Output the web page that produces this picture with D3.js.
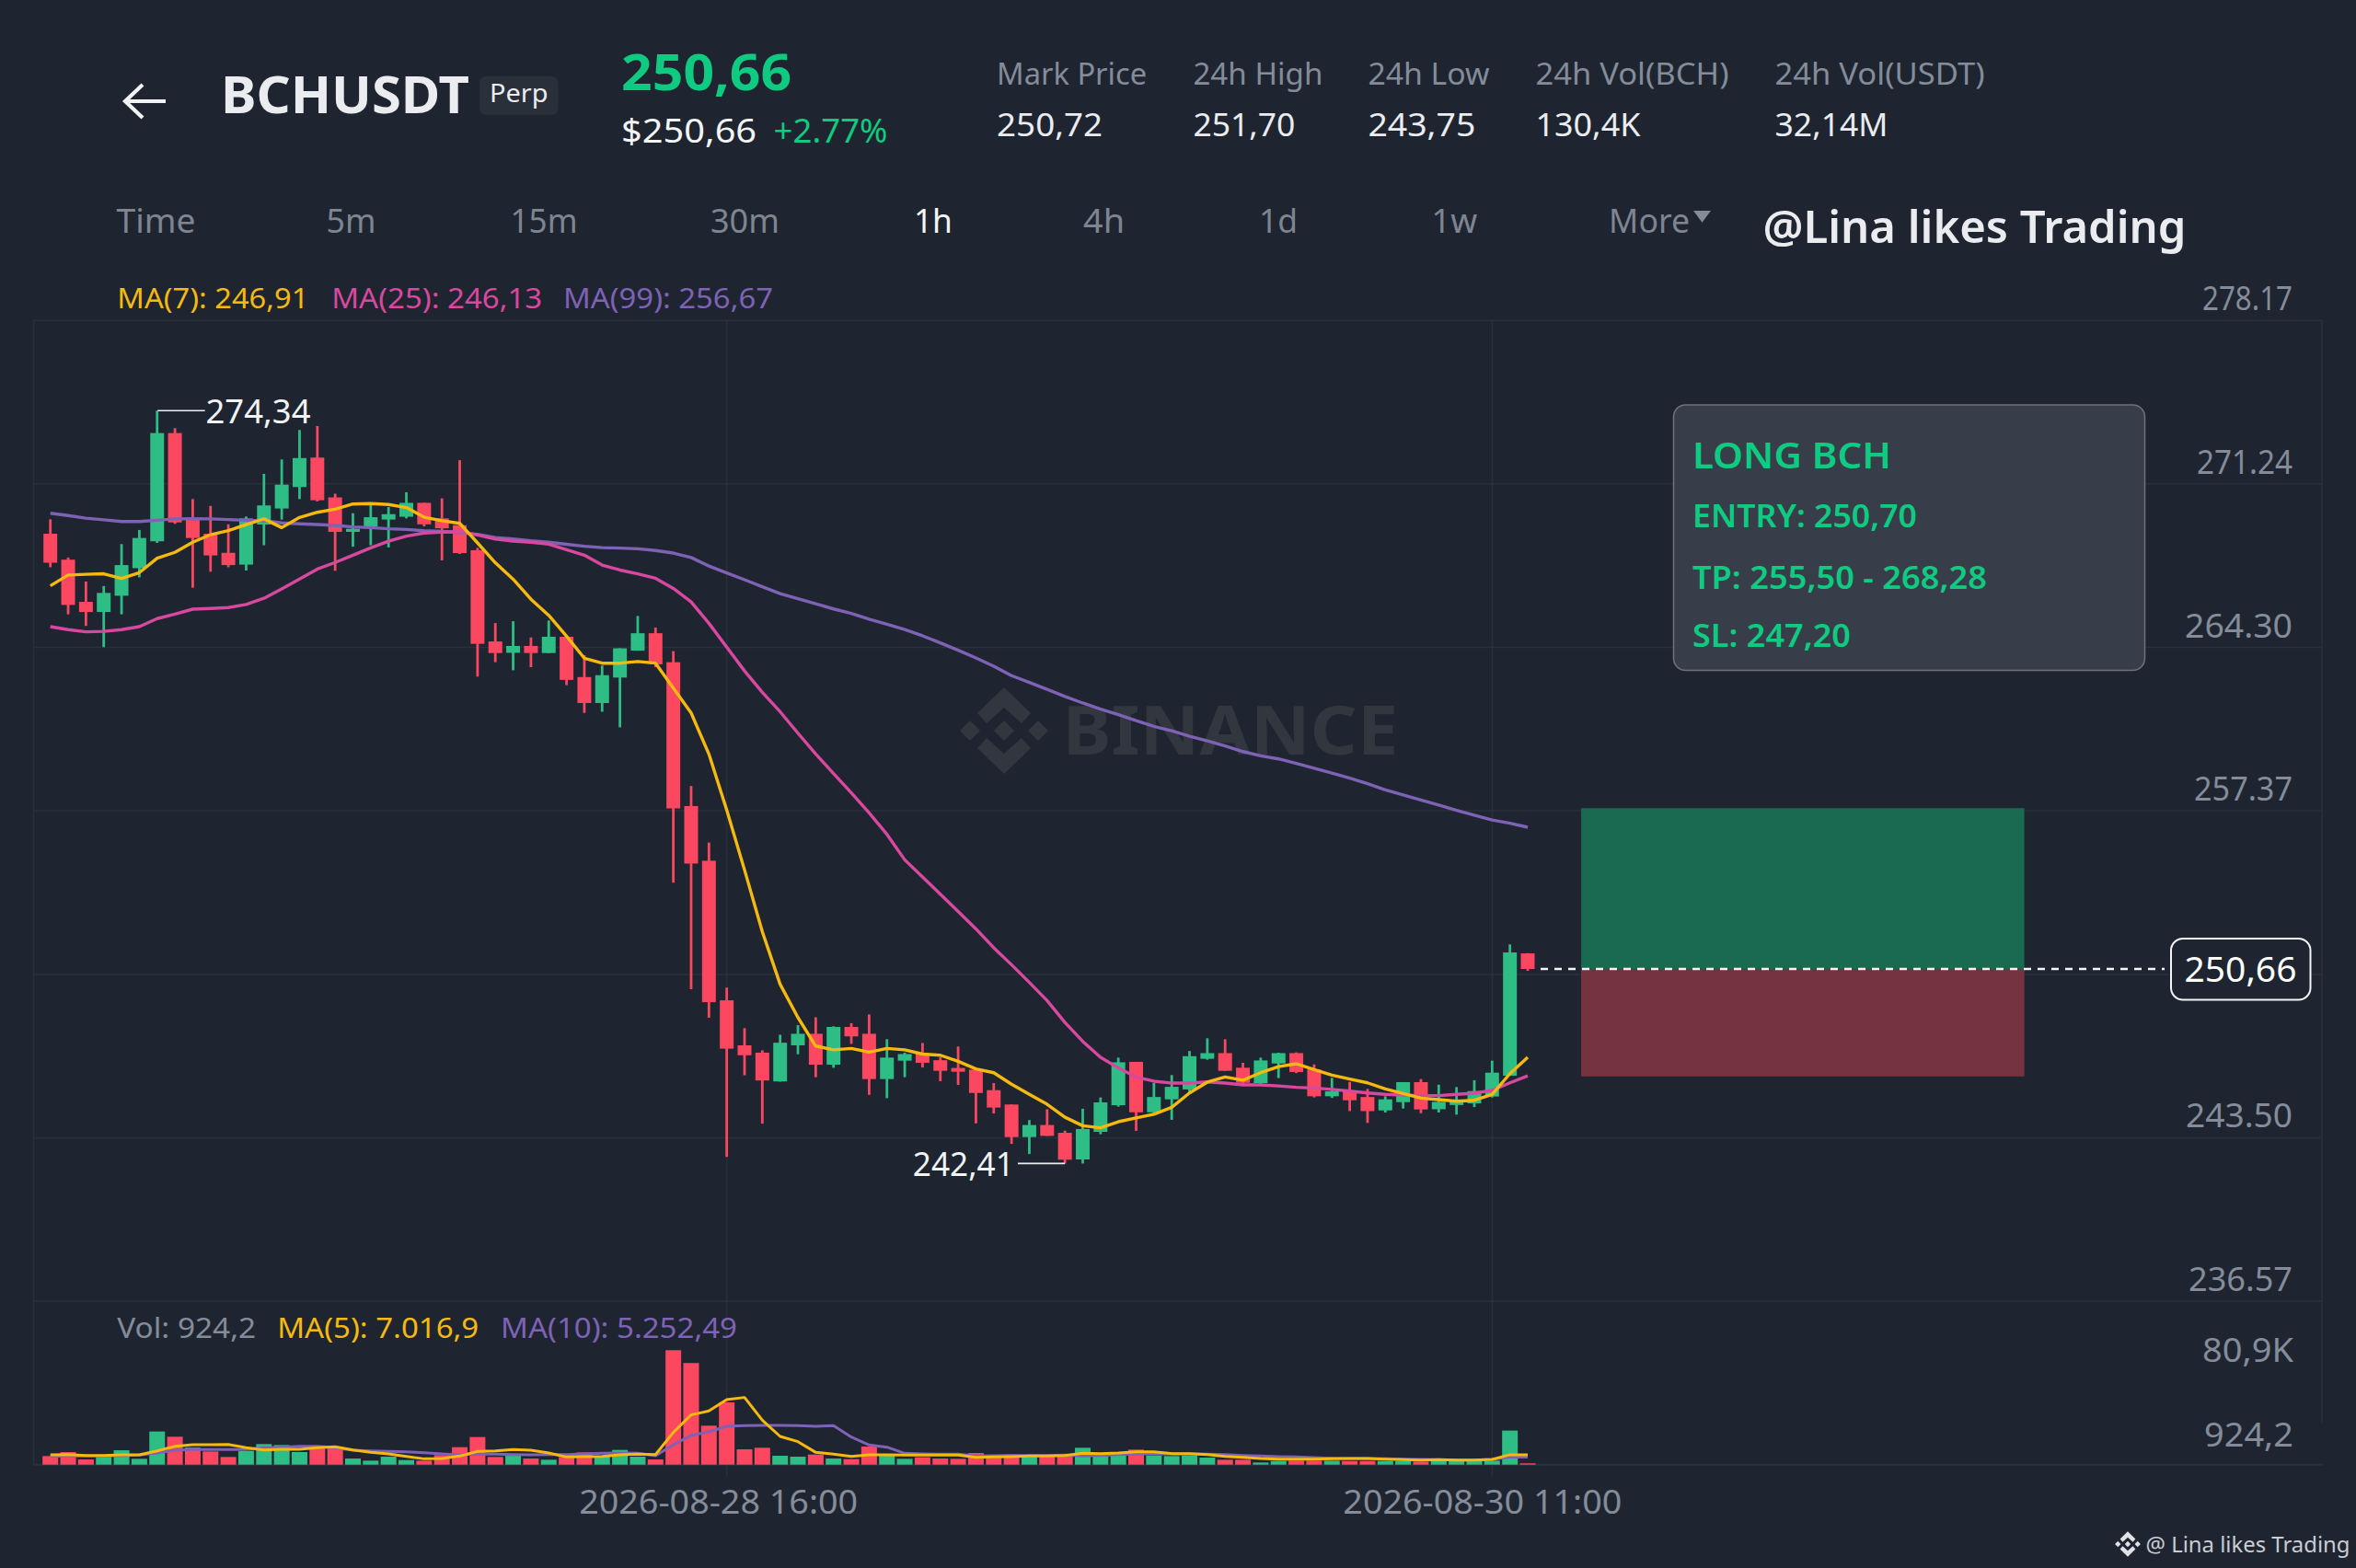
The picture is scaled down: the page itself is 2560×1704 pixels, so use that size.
<!DOCTYPE html>
<html>
<head>
<meta charset="utf-8">
<script src="https://cdn.jsdelivr.net/npm/d3@7/dist/d3.min.js"></script>
<style>
html,body{margin:0;padding:0;background:#1E2530;}
svg{display:block;}
text{font-family:"Noto Sans",sans-serif;}
</style>
</head>
<body>
<svg id="c" width="2560" height="1704"></svg>
<script>
const highs=[269.73,268.11,267.09,266.90,268.68,269.28,274.34,273.60,270.59,270.30,269.52,269.85,271.66,272.27,273.52,273.69,270.82,269.99,270.33,270.25,270.88,270.43,270.62,272.24,268.52,265.33,265.41,264.72,265.44,264.75,263.97,263.53,264.26,265.63,265.14,264.14,258.42,256.02,249.87,248.15,247.21,247.87,248.28,248.61,248.23,248.36,248.73,247.68,247.11,247.52,246.91,247.37,246.46,245.82,244.91,244.25,244.71,243.80,244.73,245.21,246.90,246.72,245.83,246.16,247.18,247.72,247.68,246.68,246.90,247.11,247.12,246.61,246.04,245.87,245.57,245.26,245.86,245.99,245.75,245.65,245.94,246.77,251.70,251.33];
const lows=[267.70,265.70,265.21,264.31,265.70,267.27,268.73,269.54,266.83,267.51,267.70,267.56,268.63,269.72,270.59,270.49,267.55,268.57,268.63,268.54,269.77,269.43,267.99,268.26,263.06,263.67,263.33,263.46,264.06,262.70,261.52,261.57,260.91,264.16,263.46,254.32,249.80,248.59,242.69,246.15,244.10,245.88,247.04,246.07,246.47,247.48,245.32,245.18,246.07,246.48,245.90,245.74,244.11,244.53,243.24,242.81,243.58,242.41,242.41,243.65,244.82,243.79,244.53,244.26,245.44,246.81,246.34,245.70,245.77,246.03,246.24,245.21,245.19,244.63,244.13,244.57,244.74,244.54,244.57,244.48,244.80,245.21,246.13,250.58];
const opens=[269.12,268.02,266.23,265.80,266.49,267.66,268.80,273.39,269.71,269.12,268.31,267.81,269.51,270.19,271.10,272.35,270.66,269.20,269.43,269.72,269.84,270.43,269.77,269.48,268.42,264.55,264.07,264.36,264.06,264.75,263.04,261.94,263.02,264.16,264.90,263.67,257.57,255.25,249.33,247.42,247.11,245.89,247.42,247.91,246.60,248.20,247.91,245.99,246.77,247.08,246.79,246.46,246.39,245.52,244.91,243.53,244.04,243.71,242.58,243.75,244.88,246.72,244.58,245.13,245.55,246.85,247.09,246.47,245.82,246.65,247.09,246.40,245.26,245.47,245.23,244.66,245.01,245.86,244.71,244.89,244.96,245.25,246.13,251.32];
const closes=[267.89,266.10,265.80,266.61,267.79,268.94,273.39,269.60,268.94,268.20,267.79,269.77,270.32,271.20,272.33,270.54,269.20,269.33,269.82,269.95,270.43,269.52,269.35,268.30,264.45,264.06,264.36,264.06,264.75,262.92,261.94,263.12,264.26,264.90,263.58,257.47,255.13,249.25,247.28,247.00,245.93,247.53,247.91,246.60,248.20,247.80,245.99,246.90,247.05,246.68,246.34,246.30,245.40,244.78,243.53,244.04,243.58,242.57,243.87,245.00,246.70,244.58,245.23,245.66,246.96,247.09,246.34,245.83,246.78,247.09,246.29,245.26,245.47,245.09,244.63,245.13,245.86,244.70,245.02,245.05,245.48,246.26,251.36,250.66];
const ma7=[266.91,267.37,267.40,267.42,267.22,267.47,268.08,268.33,268.76,269.08,269.25,269.51,269.75,269.38,269.81,270.03,270.16,270.38,270.40,270.36,270.23,269.82,269.67,269.56,268.73,267.89,267.19,266.34,265.66,264.77,263.84,263.63,263.63,263.70,263.63,262.57,261.52,259.77,257.40,254.86,252.24,250.01,248.60,247.39,247.23,247.29,247.13,247.29,247.23,247.05,247.00,246.74,246.42,246.26,245.77,245.34,244.92,244.37,244.01,243.92,244.18,244.34,244.50,244.79,245.40,245.86,246.08,245.94,246.26,246.52,246.64,246.39,246.16,245.99,245.83,245.57,245.38,245.18,245.12,245.05,245.09,245.34,246.22,246.91];
const ma25=[265.18,265.05,264.96,264.98,265.05,265.18,265.52,265.71,265.92,265.95,265.99,266.12,266.38,266.78,267.20,267.62,267.90,268.21,268.52,268.80,269.02,269.15,269.19,269.21,269.07,268.89,268.81,268.76,268.68,268.44,268.21,267.79,267.58,267.42,267.23,266.80,266.23,265.32,264.31,263.30,262.39,261.57,260.66,259.78,258.95,258.13,257.28,256.37,255.29,254.56,253.83,253.10,252.36,251.56,250.84,250.09,249.32,248.39,247.59,246.91,246.46,246.07,245.90,245.82,245.82,245.87,245.82,245.74,245.74,245.70,245.64,245.61,245.55,245.48,245.40,245.34,245.31,245.29,245.29,245.34,245.39,245.51,245.83,246.13];
const ma99=[269.99,269.89,269.78,269.71,269.64,269.64,269.69,269.75,269.76,269.75,269.72,269.69,269.67,269.58,269.54,269.51,269.47,269.41,269.38,269.33,269.30,269.25,269.22,269.17,269.09,268.96,268.90,268.82,268.76,268.67,268.59,268.53,268.51,268.48,268.41,268.30,268.11,267.75,267.46,267.17,266.87,266.58,266.36,266.15,265.93,265.74,265.50,265.28,265.06,264.79,264.49,264.18,263.85,263.50,263.10,262.81,262.52,262.22,261.94,261.68,261.45,261.19,260.95,260.76,260.53,260.33,260.12,259.88,259.70,259.57,259.38,259.17,258.97,258.75,258.52,258.26,258.04,257.83,257.61,257.39,257.18,256.98,256.84,256.67];
const volumes=[6080,8900,3690,5860,10200,4120,23440,19750,12150,9330,5430,9770,14540,13890,8900,11500,12800,4340,2820,5640,3260,2820,6730,12370,19530,5430,6290,4340,3470,5430,8680,5860,10420,5640,3690,80900,71830,27560,44050,10850,11940,6290,5640,7160,4340,3910,12800,6730,4120,5210,4340,4120,8250,5210,7160,5860,5640,7600,11940,6080,6510,10630,6510,6080,6510,4990,3470,3470,1520,2600,2820,2820,2820,2600,2600,2600,2600,2170,2600,2600,2600,2820,24090,924.2];
const volMa5=[6940,7160,6510,6510,6940,6940,9770,13020,14110,14110,14320,11940,10420,10850,10850,11940,12590,10420,8680,7600,5860,4120,4340,6080,9330,9770,10630,10200,8250,5430,5640,5860,6940,7380,7160,22790,35150,37980,46000,47520,31470,19960,16280,8680,7380,5860,6940,6940,6730,6730,6730,6730,5210,5430,5640,6080,6080,6510,8030,7810,8250,9110,9110,7810,7810,7160,5860,5210,4340,3910,3910,3910,4120,4340,4340,3910,3470,3260,3470,3260,3260,3690,7016.9,7016.9];
const volMa10=[5860,6080,6080,6080,6510,6730,8250,10200,10630,10630,10630,10850,11940,12370,13020,13020,11940,10200,9770,9330,9110,8460,7600,6940,7600,7380,7160,6940,7160,7160,7600,8030,8250,8030,6290,14110,20620,23220,27130,27560,27780,27780,27560,27130,27560,19530,13890,12370,8030,7600,7380,7380,6080,6290,6510,6510,6510,6730,6080,6510,7160,7600,7600,7600,7600,7380,7160,6510,6080,5640,5430,4990,4560,4340,4340,4120,3910,3690,3470,3260,3260,3690,5252.49,5252.49];
const priceTicks=[278.17,271.24,264.30,257.37,250.43,243.50,236.57];
const priceLabels=["278.17","271.24","264.30","257.37","","243.50","236.57"];
const timeTickIndex=[38,81];
const timeLabels=["2026-08-28 16:00","2026-08-30 11:00"];
const volLabels=["80,9K","924,2"];
const tpTop=257.48, entry=250.66, slBottom=246.10;
const zoneFrom=86, zoneTo=110.9;
const highMark=274.34, lowMark=242.41;

const BG="#1E2530",GRID="#2A3039",UP="#2EBD85",DOWN="#FB4760",GOLD="#F6B90E",PINK="#D8489F",PURPLE="#7E62B5",MUTED="#848C99",BRIGHT="#EAECEF",TEAL="#0ECB81";

const svg=d3.select("#c");
svg.append("rect").attr("width",2560).attr("height",1704).attr("fill",BG);

const x=d3.scaleLinear().domain([0,83]).range([54.7,1660]);
const y=d3.scaleLinear().domain([271.24,236.57]).range([525.7,1414]);
const v=d3.scaleLinear().domain([0,80900]).range([1591.7,1467.3]);

function label(g,px,py,str,size,fill,weight,width,anchor){
  const a=anchor||"start";
  const t=g.append("text").attr("x",a==="start"?px-1.5:(a==="end"?px+1:px)).attr("y",py).attr("font-size",size).attr("fill",fill)
    .attr("font-weight",weight||400).attr("text-anchor",a).text(str);
  if(width) t.attr("textLength",width+3).attr("lengthAdjust","spacingAndGlyphs");
  return t;
}

/* frame lines */
const grid=svg.append("g");
grid.append("line").attr("x1",36.5).attr("x2",36.5).attr("y1",348).attr("y2",1592).attr("stroke",GRID).attr("stroke-width",1.5);
grid.append("line").attr("x1",2523).attr("x2",2523).attr("y1",348).attr("y2",1546).attr("stroke",GRID).attr("stroke-width",1.5);
grid.append("line").attr("x1",36).attr("x2",2524).attr("y1",1591.7).attr("y2",1591.7).attr("stroke",GRID).attr("stroke-width",2);

/* price axis with gridlines */
const priceLabelWidths=[98,104,117,107,0,116,113];
const yAxis=d3.axisRight(y).offset(0).tickValues(priceTicks).tickSize(-2487)
  .tickFormat((d,i)=>priceLabels[i]);
const yg=svg.append("g").attr("transform","translate(2523,0)").call(yAxis);
yg.select(".domain").remove();
yg.selectAll(".tick line").attr("stroke",GRID).attr("stroke-width",1.5);
yg.selectAll(".tick text").attr("x",-32).attr("dy",-11).attr("text-anchor","end")
  .attr("font-family",'"Noto Sans",sans-serif').attr("font-size",36).attr("fill",MUTED)
  .attr("textLength",(d,i)=>priceLabelWidths[i]||null).attr("lengthAdjust","spacingAndGlyphs");
yg.selectAll(".tick text").filter(function(){return this.textContent==="";}).remove();

/* time axis */
const timeLabelOffsets=[-9,-10.5];
const xAxis=d3.axisBottom(x).offset(0).tickValues(timeTickIndex).tickSize(-1257).tickFormat((d,i)=>timeLabels[i]);
const xg=svg.append("g").attr("transform","translate(0,1605)").call(xAxis);
xg.select(".domain").remove();
xg.selectAll(".tick line").attr("stroke",GRID).attr("stroke-width",1.5);
xg.selectAll(".tick text").attr("y",40).attr("dy",0).attr("dx",(d,i)=>timeLabelOffsets[i])
  .attr("font-family",'"Noto Sans",sans-serif').attr("font-size",36).attr("fill",MUTED)
  .attr("text-anchor","middle").attr("textLength",303).attr("lengthAdjust","spacingAndGlyphs");

/* binance mark */
function mark(g,cx,cy,s,fill){
  const polys=[
    [[0,-47],[29,-19],[19,-8],[0,-25],[-19,-8],[-29,-19]],
    [[0,47],[29,19],[19,8],[0,25],[-19,8],[-29,19]],
    [[0,-11],[11,0],[0,11],[-11,0]],
    [[-37,-11],[-26,0],[-37,11],[-48,0]],
    [[37,-11],[48,0],[37,11],[26,0]]
  ];
  g.selectAll(null).data(polys).enter().append("polygon")
    .attr("points",p=>p.map(q=>[cx+q[0]*s,cy+q[1]*s].join(",")).join(" "))
    .attr("fill",fill);
}
const wm=svg.append("g");
mark(wm,1091,794,1,"#31363F");
label(wm,1156,820,"BINANCE",73,"#31363F",700,362);

/* trade zones */
const zones=svg.append("g");
zones.append("rect").attr("x",x(zoneFrom)).attr("width",x(zoneTo)-x(zoneFrom))
  .attr("y",y(tpTop)).attr("height",y(entry)-y(tpTop)).attr("fill","#1A6951");
zones.append("rect").attr("x",x(zoneFrom)).attr("width",x(zoneTo)-x(zoneFrom))
  .attr("y",y(entry)).attr("height",y(slBottom)-y(entry)).attr("fill","#753340");

/* candles */
const idx=d3.range(highs.length);
const col=i=>closes[i]>=opens[i]?UP:DOWN;
const candles=svg.append("g").selectAll("g").data(idx).enter().append("g");
candles.append("rect").attr("x",i=>x(i)-1.4).attr("width",2.8)
  .attr("y",i=>y(highs[i])).attr("height",i=>y(lows[i])-y(highs[i])).attr("fill",col);
candles.append("rect").attr("x",i=>x(i)-7.5).attr("width",15)
  .attr("y",i=>y(Math.max(opens[i],closes[i]))).attr("height",i=>Math.max(2,Math.abs(y(opens[i])-y(closes[i])))).attr("fill",col);

/* price MAs */
const priceLine=d3.line().x((d,i)=>x(i)).y(d=>y(d));
[[ma99,PURPLE],[ma25,PINK],[ma7,GOLD]].forEach(([s,c])=>{
  svg.append("path").attr("d",priceLine(s)).attr("fill","none").attr("stroke",c).attr("stroke-width",3.4).attr("stroke-linejoin","round");
});

/* volume */
svg.append("g").selectAll("rect").data(idx).enter().append("rect")
  .attr("x",i=>x(i)-8.5).attr("width",17).attr("y",i=>v(volumes[i])).attr("height",i=>v(0)-v(volumes[i])).attr("fill",col);
const volLine=d3.line().x((d,i)=>x(i)).y(d=>v(d));
[[volMa10,PURPLE],[volMa5,GOLD]].forEach(([s,c])=>{
  svg.append("path").attr("d",volLine(s)).attr("fill","none").attr("stroke",c).attr("stroke-width",3).attr("stroke-linejoin","round");
});
const vt=svg.append("g");
label(vt,2491,1480,volLabels[0],36,MUTED,400,96,"end");
label(vt,2491,1572,volLabels[1],36,MUTED,400,94,"end");

/* high / low markers */
const hm=svg.append("g");
hm.append("line").attr("x1",x(6)+0.5).attr("x2",222.7).attr("y1",y(highMark)).attr("y2",y(highMark)).attr("stroke","#EAECEF").attr("stroke-width",1.6);
label(hm,225,460,"274,34",37,"#F2F3F5",400,111);
hm.append("line").attr("x1",1106).attr("x2",x(57)).attr("y1",y(lowMark)).attr("y2",y(lowMark)).attr("stroke","#EAECEF").attr("stroke-width",1.6);
label(hm,993.3,1278.3,"242,41",37,"#F2F3F5",400,107);

/* current price */
const cp=svg.append("g");
cp.append("line").attr("x1",1674).attr("x2",2352).attr("y1",y(entry)).attr("y2",y(entry))
  .attr("stroke","#F4F5F6").attr("stroke-width",2.4).attr("stroke-dasharray","8 7");
cp.append("rect").attr("x",2359).attr("y",1020).attr("width",151.5).attr("height",66.5).attr("rx",13)
  .attr("fill",BG).attr("stroke","#F4F5F6").attr("stroke-width",2);
label(cp,2434.5,1067,"250,66",38,"#FFFFFF",400,119,"middle");

/* trade box */
const tb=svg.append("g");
tb.append("rect").attr("x",1818.5).attr("y",440).attr("width",512).attr("height",288.5).attr("rx",13)
  .attr("fill","#383E49").attr("stroke","#6E727B").attr("stroke-width",1.5);
label(tb,1840.5,508.5,"LONG BCH",40,TEAL,600,213);
label(tb,1840.5,573,"ENTRY: 250,70",35,TEAL,600,241);
label(tb,1840.5,640,"TP: 255,50 - 268,28",35,TEAL,600,317);
label(tb,1840.5,702.6,"SL: 247,20",35,TEAL,600,169);

/* header */
const h=svg.append("g");
h.append("path").attr("d","M180 110H136M155 92L136 110L155 128").attr("fill","none").attr("stroke","#F2F3F5").attr("stroke-width",4.2);
label(h,241.5,123.3,"BCHUSDT",56,BRIGHT,700,267);
h.append("rect").attr("x",521).attr("y",82.7).attr("width",85.5).attr("height",42.3).attr("rx",7).attr("fill","#2A303A");
label(h,533.5,111,"Perp",28,BRIGHT,400,60.5);
label(h,676.6,97.7,"250,66",53,TEAL,700,182);
label(h,676.6,155,"$250,66",36,"#F4F5F6",400,144);
label(h,842,155,"+2.77%",36,TEAL,400,121);

const statHeads=["Mark Price","24h High","24h Low","24h Vol(BCH)","24h Vol(USDT)"];
const statVals=["250,72","251,70","243,75","130,4K","32,14M"];
const statX=[1084.6,1297.9,1487.9,1670,1930];
const headW=[160,138,129,207,225];
const valW=[112,108,114,111,120];
statHeads.forEach((s,i)=>{
  label(h,statX[i],91.7,s,33,MUTED,400,headW[i]);
  label(h,statX[i],148.3,statVals[i],35,BRIGHT,400,valW[i]);
});

const tabs=["Time","5m","15m","30m","1h","4h","1d","1w","More"];
const tabX=[128,356,556,773.4,994.4,1178.6,1369.6,1556.7,1749.6];
const tabW=[83,51,70,72,39,42,39,47,85];
tabs.forEach((s,i)=>label(h,tabX[i],252.7,s,36,i===4?"#F4F5F6":"#7E8591",400,tabW[i]));
h.append("path").attr("d","M1840 229H1859L1849.5 241.7Z").attr("fill",MUTED);
label(h,1917,264,"@Lina likes Trading",48,BRIGHT,600,457);

/* MA legends */
const lg=svg.append("g");
label(lg,128.8,335,"MA(7): 246,91",31,GOLD,400,205);
label(lg,361.7,335,"MA(25): 246,13",31,PINK,400,226);
label(lg,613.5,335,"MA(99): 256,67",31,PURPLE,400,225);
label(lg,128.7,1454.3,"Vol: 924,2",31,MUTED,400,148);
label(lg,302.7,1454.3,"MA(5): 7.016,9",31,GOLD,400,216);
label(lg,545.5,1454.3,"MA(10): 5.252,49",31,PURPLE,400,254);

/* credit */
const cr=svg.append("g");
mark(cr,2312,1678,0.29,"#E0E2E5");
label(cr,2333,1686.7,"@ Lina likes Trading",24,"#C9CDD3",400,219);
</script>
</body>
</html>
